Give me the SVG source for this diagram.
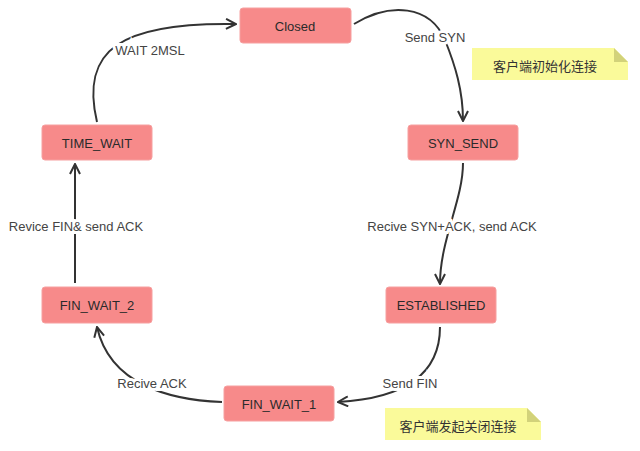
<svg xmlns="http://www.w3.org/2000/svg" width="640" height="451" viewBox="0 0 640 451">
<style>
.n{fill:#f78a8a;stroke:#f6a0a0;stroke-width:1}
.nt{font-family:"Liberation Sans",Arial,sans-serif;font-size:13px;fill:#2a2a2a;text-anchor:middle;dominant-baseline:central}
.c{fill:none;stroke:#333;stroke-width:2}
.lb{font-family:"Liberation Sans",Arial,sans-serif;font-size:13px;fill:#444;text-anchor:middle;dominant-baseline:central;paint-order:stroke;stroke:#fff;stroke-width:6px}
.note{fill:#fafa9a}
.fold{fill:#d2d27a}
.ntx{font-family:"Noto Sans CJK SC",sans-serif;font-size:13px;fill:#333;text-anchor:middle;dominant-baseline:central}
</style>
<defs><marker id="a" viewBox="0 0 12 12" refX="11" refY="6" markerWidth="12" markerHeight="12" markerUnits="userSpaceOnUse" orient="auto"><path d="M1,1 L11,6 L1,11" fill="none" stroke="#333" stroke-width="2"/></marker></defs>
<rect width="640" height="451" fill="#fff"/>
<g id="connectors">
<path class="c" marker-end="url(#a)" d="M354,24 C390,2 430,5 445,40 C455,65 463,90 463,121"/>
<path class="c" marker-end="url(#a)" d="M463,163 C463,200 440,240 440,284"/>
<path class="c" marker-end="url(#a)" d="M440,327 C440,370 410,398 338,402"/>
<path class="c" marker-end="url(#a)" d="M222,402 C170,400 110,385 97,327"/>
<path class="c" marker-end="url(#a)" d="M75,283 L75,164"/>
<path class="c" marker-end="url(#a)" d="M97,122 C80,50 120,22 236,24"/>
<text class="lb" x="435" y="37">Send SYN</text>
<text class="lb" x="452" y="226">Recive SYN+ACK, send ACK</text>
<text class="lb" x="410" y="383">Send FIN</text>
<text class="lb" x="152" y="383">Recive ACK</text>
<text class="lb" x="76" y="226">Revice FIN&amp; send ACK</text>
<text class="lb" x="150" y="50">WAIT 2MSL</text>
</g>
<g id="Closed"><rect class="n" x="240" y="8" width="111" height="35" rx="3"/><text class="nt" x="295" y="26">Closed</text></g>
<g id="SYN_SEND"><rect class="n" x="408" y="125" width="110" height="35" rx="3"/><text class="nt" x="463" y="143">SYN_SEND</text></g>
<g id="ESTABLISHED"><rect class="n" x="386" y="287" width="110" height="36" rx="3"/><text class="nt" x="441" y="305">ESTABLISHED</text></g>
<g id="FIN_WAIT_1"><rect class="n" x="224" y="386" width="110" height="35" rx="3"/><text class="nt" x="279" y="404">FIN_WAIT_1</text></g>
<g id="FIN_WAIT_2"><rect class="n" x="42" y="287" width="110" height="36" rx="3"/><text class="nt" x="97" y="305">FIN_WAIT_2</text></g>
<g id="TIME_WAIT"><rect class="n" x="42" y="125" width="110" height="35" rx="3"/><text class="nt" x="97" y="143">TIME_WAIT</text></g>
<g id="note1"><path class="note" d="M472,48 H614 L628,62 V80 H472 Z"/><path class="fold" d="M614,48 L628,62 H614 Z"/><text class="ntx" x="545" y="65">客户端初始化连接</text></g>
<g id="note2"><path class="note" d="M385,408 H527 L541,422 V440 H385 Z"/><path class="fold" d="M527,408 L541,422 H527 Z"/><text class="ntx" x="458" y="425">客户端发起关闭连接</text></g>
</svg>
